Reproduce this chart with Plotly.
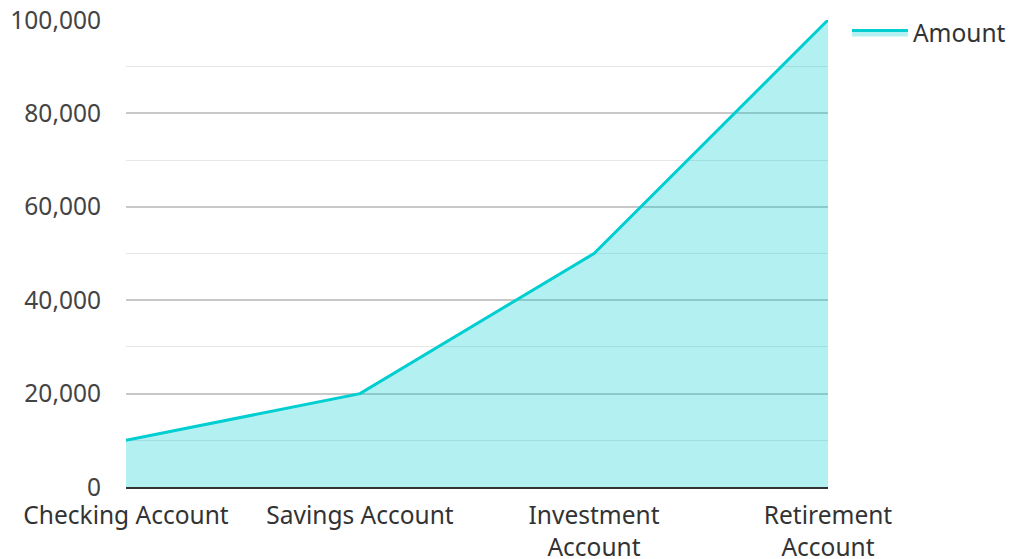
import plotly.graph_objects as go

categories = ["Checking Account", "Savings Account", "Investment<br>Account", "Retirement<br>Account"]
amounts = [10000, 20000, 50000, 100000]
y_ticks = [0, 20000, 40000, 60000, 80000, 100000]

fig = go.Figure()
fig.add_trace(go.Scatter(
    x=list(range(len(categories))), y=amounts, name="Amount", mode="lines",
    line=dict(color="#00CED1", width=3), fill="tozeroy",
    fillcolor="rgba(0,206,209,0.3)",
))
fig.update_layout(
    width=1010, height=559,
    margin=dict(l=126, r=182, t=20, b=72, autoexpand=False),
    paper_bgcolor="white", plot_bgcolor="white",
    font=dict(family="Noto Sans", size=24.5, color="#333"),
    showlegend=True,
    legend=dict(x=1.027, y=1.021, xanchor="left", yanchor="top",
                font=dict(size=24.5, color="#333"), itemwidth=56),
)
fig.update_xaxes(
    tickmode="array", tickvals=list(range(len(categories))), ticktext=categories,
    range=[0, len(categories) - 1], showgrid=False, showline=True,
    linecolor="#333", linewidth=2, ticks="", tickfont=dict(color="#333"),
    zeroline=False, ticklabelstandoff=6, ticklabeloverflow="allow",
)
fig.update_yaxes(
    range=[0, 100000], tickvals=y_ticks, tickformat=",",
    showgrid=True, gridcolor="#c8c8c8", gridwidth=1.5,
    minor=dict(dtick=10000, showgrid=True, gridcolor="#e6e6e6", gridwidth=1),
    zeroline=False, showline=False, ticks="", ticklen=0,
    tickfont=dict(color="#444"), ticklabelstandoff=24, ticklabeloverflow="allow",
)
fig.write_html("out.html", config={"displayModeBar": False},
               post_script="document.body.style.margin='0';")
